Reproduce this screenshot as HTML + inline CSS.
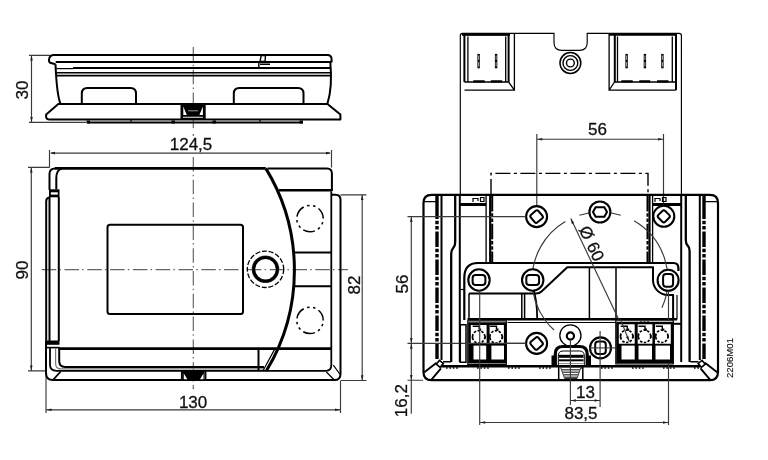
<!DOCTYPE html>
<html><head><meta charset="utf-8">
<style>
html,body{margin:0;padding:0;background:#fff;width:768px;height:460px;overflow:hidden}
svg{display:block;will-change:transform}
text{font-family:"Liberation Sans",sans-serif;fill:#111;stroke:#111;stroke-width:0.3}
.o{stroke:#000;stroke-width:2;fill:none;stroke-linejoin:round}
.k{stroke:#000;stroke-width:2.6;fill:none}
.t{stroke:#000;stroke-width:1.2;fill:none}
.d{stroke:#3a3a3a;stroke-width:1.15;fill:none}
.c{stroke:#666;stroke-width:1.2;fill:none;stroke-dasharray:14.5 3.2 1.5 3.6}
.h{stroke:#000;stroke-width:1.4;fill:none;stroke-dasharray:4 2}
.a{fill:#222;stroke:none}
</style></head><body>
<svg width="768" height="460" viewBox="0 0 768 460">
<!-- ============ SIDE VIEW (top-left) ============ -->
<g id="side">
  <!-- dim 30 -->
  <path class="d" d="M29 55.3H50 M29 122.3H86 M31.5 55.3V122.3"/>
  <path class="a" d="M31.5 55.5l-1.3 5h2.6z M31.5 122l-1.3 -5h2.6z"/>
  <text x="0" y="0" font-size="17" text-anchor="middle" transform="translate(27.5 90) rotate(-90)">30</text>
  <!-- center line -->
  <path class="c" d="M193.3 47V128"/>
  <!-- top cover -->
  <path class="o" d="M55.5 64.3L50.2 62.8Q49 62.5 49 60Q49.3 55 54 55H327.5Q331.6 55 331.6 59.5V61.8H330"/>
  <path class="o" d="M55.7 61.9H330"/>
  <path class="t" d="M73 67.9H330" style="stroke-width:2"/>
  <path class="t" d="M56.5 68.6H73"/>
  <path class="t" d="M56.5 72.8H330" style="stroke-width:1.4"/>
  <path class="o" d="M56.5 75.7H330" style="stroke-width:1.8"/>
  <!-- small step feature near x=263 -->
  <path class="t" d="M260 61.5L261.2 55.5H265.5L265 61.5Z M258.8 61.5V67.8 M260 64.3H270" style="stroke-width:1.4"/>
  <!-- walls -->
  <path class="o" d="M55.5 64.3Q56.8 95 60.5 103.9"/>
  <path class="o" d="M330.3 62C331.6 76 331.2 92 327.4 103.7"/>
  <!-- tabs -->
  <path class="o" d="M81.8 103.7V93.5Q81.8 88 87.3 88H130.5Q136 88 136 93.5V103.7"/>
  <path class="o" d="M233.8 103.7V93.5Q233.8 88 239.3 88H298Q303.5 88 303.5 93.5V103.7"/>
  <!-- base -->
  <path class="o" d="M58.3 103.9H327.5L340.4 114.6V119.6H49Q45.5 119.6 46.2 114.5Z"/>
  <!-- bottom strip -->
  <path class="o" d="M87.5 122.5H303"/>
  <path class="t" d="M131 119.5V122.5 M260 119.5V122.5"/>
  <path class="k" d="M86.5 122h3.5 M171.5 122h3.5 M212.5 122h3.5 M299.5 122h3.5" style="stroke-width:3"/>
  <!-- connector -->
  <path style="fill:#000" d="M180.5 103H205.7V119.5H180.5Z"/>
  <path style="fill:#fff" d="M183.3 106.5V115H186.8Z M202.9 106.5V115H199.4Z"/>
  <path d="M188 110.8H198" style="stroke:#999;stroke-width:1"/>
  <path d="M183 117.3H203" style="stroke:#ccc;stroke-width:1.2"/>
</g>

<!-- ============ FRONT VIEW (bottom-left) ============ -->
<g id="front">
  <!-- dim 124,5 -->
  <path class="d" d="M49.5 150V167.5 M331.5 150V167.5 M51 153.1H330"/>
  <path class="a" d="M50 153.1l5 -1.3v2.6z M331 153.1l-5 -1.3v2.6z"/>
  <text x="191" y="149.6" font-size="17" text-anchor="middle">124,5</text>
  <!-- dim 90 -->
  <path class="d" d="M28 167.3H49.5 M28 370.8H46 M31.3 167.3V370.8"/>
  <path class="a" d="M31.3 167.6l-1.3 5h2.6z M31.3 370.5l-1.3 -5h2.6z"/>
  <text x="0" y="0" font-size="17" text-anchor="middle" transform="translate(28 270) rotate(-90)">90</text>
  <!-- dim 130 -->
  <path class="d" d="M46 372V413 M340.5 381V413 M46 409.8H340.5"/>
  <path class="a" d="M46.5 409.8l5 -1.3v2.6z M340 409.8l-5 -1.3v2.6z"/>
  <text x="193.1" y="408" font-size="17" text-anchor="middle">130</text>
  <!-- dim 82 -->
  <path class="d" d="M340.5 194.8H366.5 M340.5 380.5H366.5 M362.2 194.8V380.5"/>
  <path class="a" d="M362.2 195.1l-1.3 5h2.6z M362.2 380.2l-1.3 -5h2.6z"/>
  <text x="0" y="0" font-size="17" text-anchor="middle" transform="translate(359.5 285) rotate(-90)">82</text>
  <!-- center lines -->
  <path class="c" d="M193.3 134V136 M193.3 157V389.3"/>
  <path class="c" d="M39 269.6H348" style="stroke-dashoffset:20.1"/>

  <!-- outer body -->
  <path class="k" d="M55 168.4H265.8"/>
  <path class="o" d="M49.5 190V174Q49.5 168.4 55 168.4"/>
  <path class="o" d="M61.7 168.6Q56.3 170 56.3 178V189.3"/>
  <path d="M49 189.3H59.5V197.3H49Z" style="fill:#000"/>
  <path d="M50.8 192.3H57.8V194.6H50.8Z" style="fill:#fff"/>
  <path class="o" d="M46.2 341V201Q46.2 198 49.5 197.5"/>
  <path class="o" d="M49.5 197V341 M58.8 197V341"/>
  <path d="M46 340.5H59.5V344.8H46Z" style="fill:#000"/>
  <path d="M46 347.6H59.5" style="stroke:#000;stroke-width:1.6"/>
  <path class="o" d="M46 341V372.7Q46 380.1 53 380.1H334.5Q340.5 380.1 340.5 374V200Q340.5 194.8 335.5 194.8H332"/>
  <path class="o" d="M50 348V364.5Q50 370.8 56.5 370.8H326Q331.3 370.8 331.3 365V191.3" style="stroke-width:1.8"/>
  <path class="t" d="M55.6 348V363.5Q55.6 368.9 61 368.9H264" style="stroke-width:1.2;stroke:#777"/>
  <path class="o" d="M59.2 348V361Q59.2 366.9 65 366.9H264"/>
  <path class="o" d="M267.7 168.4H327Q331.9 168.4 331.9 173.5V191"/>
  <path class="k" d="M279 190.3H331.5"/>
  <path class="o" d="M294.5 252.5H331 M294.5 286.3H331"/>
  <path class="k" d="M58.8 348.6H331"/>

  <path class="o" d="M258.5 348.6V370.8"/>
  <!-- chamfers -->
  <path class="t" d="M326.4 372L334.3 380 M333.3 365.2L340.5 375"/>
  <path class="t" d="M60.7 371.5L53.3 379.7" style="stroke-width:1.8"/>
  <!-- big arc -->
  <path class="k" d="M265.8 168.4A195 195 0 0 1 266.4 370.8" style="stroke-width:3"/>
  <path class="t" d="M275 348.6L263 370.8"/>
  <!-- dashed circles -->
  <circle cx="310" cy="218.6" r="13.2" style="fill:none;stroke:#000;stroke-width:1.5;stroke-dasharray:2.5 3.55 2.5 3.55 12 3.55;stroke-dashoffset:24.1"/>
  <circle cx="310" cy="320.4" r="13.2" style="fill:none;stroke:#000;stroke-width:1.5;stroke-dasharray:2.5 3.55 2.5 3.55 12 3.55;stroke-dashoffset:24.1"/>
  <!-- display -->
  <rect class="o" x="107.5" y="224.8" width="135.5" height="89.2" rx="2.5"/>
  <!-- knob -->
  <circle class="h" cx="265.5" cy="269.3" r="18.2" style="stroke-width:1.3;stroke-dasharray:5 1.8"/>
  <circle cx="265.5" cy="269.3" r="13.2" style="fill:none;stroke:#444;stroke-width:1.2"/>
  <circle class="k" cx="265.5" cy="269.3" r="11.8" style="stroke-width:3"/>
  <!-- clip -->
  <path class="o" d="M181.9 371V380 M205.4 371V380"/>
  <path style="fill:#000" d="M183 371H204.3V379.3H183Z"/>
  <path style="fill:#fff" d="M183.8 373.5V379.3H187.3Z M203.5 373.5V379.3H200Z"/>
</g>

<!-- ============ REAR VIEW (right) ============ -->
<g id="rear">
  <!-- plate outline -->
  <path class="t" d="M460.3 194V35.5Q460.3 33.3 462.5 33.3H554V42.5Q554 50.4 562 50.4H579.2Q587.2 50.4 587.2 42.5V33.3H679Q681.4 33.3 681.4 35.5V194" style="stroke-width:1.15"/>
  <!-- left connector -->
  <path class="t" d="M462 34.8H510 M464.5 90.1H514.4V33.3 M467.9 36.5V82 M505.7 36.5V82 M464.5 82H508.6L514.4 90.1" style="stroke-width:1.3"/>
  <path d="M464.4 34V82 M508.6 34V82 M462 34.8H510" style="stroke:#000;stroke-width:2;fill:none"/>
  <path d="M473.3 81.3H484.7 M490.8 81.3H502.2" style="stroke:#000;stroke-width:2.2"/>
  <g style="fill:#000">
    <rect x="477.4" y="53.9" width="2.4" height="14.4"/>
    <rect x="494.9" y="53.9" width="2.4" height="14.4"/>
  </g>
  <path d="M478.6 55.5V59.8 M496.1 55.5V59.8 M478.6 62V66.5 M496.1 62V66.5" style="stroke:#bbb;stroke-width:0.9"/>
  <!-- right connector -->
  <path class="t" d="M609.1 33.3V90.1H676.1 M614.5 82L609.1 90.1 M617.5 36.5V82 M672.3 36.5V82 M614.5 82H676" style="stroke-width:1.3"/>
  <path d="M614.8 34V82 M676 34V90.1 M609.1 34.8H676" style="stroke:#000;stroke-width:2;fill:none"/>
  <path d="M621.3 81.3H632.7 M639.3 81.3H650.2 M657 81.3H668.5" style="stroke:#000;stroke-width:2.2"/>
  <g style="fill:#000">
    <rect x="625.4" y="53.9" width="2.4" height="14.4"/>
    <rect x="643.7" y="53.9" width="2.4" height="14.4"/>
    <rect x="661.2" y="53.9" width="2.4" height="14.4"/>
  </g>
  <path d="M626.6 55.5V59.8 M644.9 55.5V59.8 M662.4 55.5V59.8 M626.6 62V66.5 M644.9 62V66.5 M662.4 62V66.5" style="stroke:#bbb;stroke-width:0.9"/>
  <!-- screw -->
  <circle class="t" cx="570.4" cy="63" r="10.4" style="stroke-width:1.5"/>
  <circle class="t" cx="570.4" cy="63" r="7.4" style="stroke-width:1.4"/>
  <circle class="t" cx="570.4" cy="63" r="3.9" style="stroke-width:1.4"/>

  <!-- dim 56 horizontal -->
  <path class="d" d="M536.8 134V206 M663.5 134V206 M536.8 139.2H663.5"/>
  <path class="a" d="M537.3 139.2l5 -1.3v2.6z M663 139.2l-5 -1.3v2.6z"/>
  <text x="597.5" y="134.6" font-size="17" text-anchor="middle">56</text>
  <!-- phantom -->
  <path d="M491 194V173.4H648V194" style="fill:none;stroke:#000;stroke-width:1.4;stroke-dasharray:15 3.5 3 3.5"/>

  <!-- housing outer -->
  <path class="o" d="M423.5 372V203Q423.5 194.8 431.5 194.8H710Q718 194.8 718 203V372Q718 380.2 710 380.2H431.5Q423.5 380.2 423.5 372Z" style="stroke-width:2.2"/>
  <path class="t" d="M424 201.6H436 M705 201.6H717.5"/>
  <!-- left rails -->
  <path d="M437 195V360" style="fill:none;stroke:#000;stroke-width:3.4;stroke-dasharray:24 1.8 3.5 1.8 3.5 1.8 15.6 1.8 3.5 1.8 3.5 1.8 15.6 1.8 3.5 1.8 3.5 1.8 15.6 1.8 3.5 1.8 3.5 1.8 15.6 1.8 3.5 1.8 3.5 1.8 15.6 1.8 3.5 1.8 3.5 1.8 200"/>
  <path class="t" d="M441.5 195V360" style="stroke-width:2"/>
  <path class="t" d="M455.2 195V242Q455.2 246 453.2 248Q451.2 250 451.2 254V362" style="stroke-width:2.3"/>
  <path class="t" d="M459.8 195V362" style="stroke-width:2"/>
  <!-- right rails -->
  <path d="M704 195V360" style="fill:none;stroke:#000;stroke-width:3.4;stroke-dasharray:24 1.8 3.5 1.8 3.5 1.8 15.6 1.8 3.5 1.8 3.5 1.8 15.6 1.8 3.5 1.8 3.5 1.8 15.6 1.8 3.5 1.8 3.5 1.8 15.6 1.8 3.5 1.8 3.5 1.8 15.6 1.8 3.5 1.8 3.5 1.8 200"/>
  <path class="t" d="M699.8 195V360" style="stroke-width:2"/>
  <path class="t" d="M685.8 195V240Q685.8 244 687.7 245.7Q689.6 247.4 689.6 251V362" style="stroke-width:2.3"/>
  <path class="t" d="M681.2 195V362" style="stroke-width:2"/>
  <!-- top frames -->
  <path d="M459 204.5H486 M652 204.5H681" style="stroke:#000;stroke-width:3"/>
  <path class="t" d="M486.1 195V262 M652.6 195V262" style="stroke-width:1.3"/>
  <path d="M490.2 195V262.5 M649.5 195V262.5" style="fill:none;stroke:#000;stroke-width:2.2"/>
  <path d="M492.2 195V262.5 M647.5 195V262.5" style="fill:none;stroke:#000;stroke-width:2;stroke-dasharray:16.5 1.8 3.4 1.8 3.4 1.8 15.6 1.8 3.4 1.8 3.4 1.8 40"/>
  <path class="t" d="M473 202V198.5H478V201 M480.5 197.5H484V201.5H480.5Z M655 202V198.5H660V201 M662.5 197.5H666V201.5H662.5Z"/>

  <!-- inner plate -->
  <path class="o" d="M464.3 320V277.8Q464.3 263 478 263H673.4Q678.4 263 678.4 268V271" style="stroke-width:2.2"/>
  <path class="t" d="M459.7 289.5H464.3"/>
  <path class="o" d="M469 293.5H536Q539.5 293.5 541.5 291.5L567.3 267.3H653V280A15 15 0 0 0 668 295H673.1V319.5"/>
  <path class="o" d="M673.1 323.8H681.2"/>
  <path class="o" d="M533.5 290Q537 300 537.2 318" style="stroke-width:1.8"/>
  <path class="o" d="M467.5 319.3H677" style="stroke-width:2.4"/>
  <path class="t" d="M507.5 322.5H616"/>
  <path class="t" d="M469 293.5V319 M521.8 293.5V319 M524.6 293.5V319 M589.4 267.3V319 M616 267.3V319" style="stroke-width:1.5"/>
  <path class="t" d="M677 295V319.5"/>

  <!-- Ø60 circle (center 600,280 r68) -->
  <path class="d" d="M532 280A68 68 0 0 1 565.3 221.6 M579.4 215.3A68 68 0 0 1 620.8 215.3 M634 220.8A68 68 0 0 1 661.9 307.7 M545 320A68 68 0 0 1 532 280 M554 330A68 68 0 0 1 545 320"/>
  <path class="d" d="M570.8 218.6L629.2 341.4"/>
  <path class="a" d="M570.9 218.8l0.9 5.3l2.4 -1.1z"/>
  <text x="0" y="0" font-size="17" text-anchor="middle" transform="translate(586.5 246) rotate(64.6)">Ø 60</text>

  <!-- holes -->
  <g style="fill:#fff;stroke:#000;stroke-width:2.1">
    <circle cx="536.6" cy="216.6" r="10.5"/>
    <circle cx="599.9" cy="212" r="10.5"/>
    <circle cx="663.8" cy="216.3" r="10.5"/>
    <circle cx="479" cy="280" r="10.7"/>
    <circle cx="532.7" cy="280" r="10.7"/>
    <circle cx="668.1" cy="280.3" r="10.5"/>
    <circle cx="536.6" cy="343.4" r="10.5"/>
    <circle cx="600.5" cy="347.9" r="10.5"/>
  </g>
  <g style="fill:none;stroke:#000;stroke-width:2">
    <rect x="531.6" y="211.6" width="10" height="10" rx="2" transform="rotate(-40 536.6 216.6)"/>
    <path d="M595.6 207.3H604.4L607 212L604.4 216.8H595.6L593 212Z"/>
    <rect x="659" y="211.5" width="9.6" height="9.6" rx="2" transform="rotate(45 663.8 216.3)"/>
    <rect x="472.6" y="275" width="12.8" height="10" rx="3"/>
    <rect x="526.3" y="275" width="12.8" height="10" rx="3"/>
    <rect x="663.1" y="273.9" width="10" height="12.8" rx="3"/>
    <rect x="531.6" y="338.4" width="10" height="10" rx="2" transform="rotate(-40 536.6 343.4)"/>
    <rect x="595.2" y="341.6" width="10.6" height="12.5" rx="3"/>
  </g>

  <!-- bottom rail -->
  <path d="M441 366.2H700" style="stroke:#000;stroke-width:2.6"/>
  <path d="M441 368H700" style="stroke:#000;stroke-width:1.4;stroke-dasharray:1.6 1.8 1.6 1.8 1.6 1.8 1.6 19.2;stroke-dashoffset:-5"/>
  <!-- chamfer bands -->
  <path class="t" d="M424.3 372.2L436.6 362.8 M431.7 379.3L441 368.3" style="stroke-width:1.9"/>
  <path class="t" d="M717.2 372.2L704.9 362.8 M709.8 379.3L700.5 368.3" style="stroke-width:1.9"/>
  <rect x="437.3" y="361.3" width="5" height="5" transform="rotate(40 439.8 363.8)" style="fill:#fff;stroke:#000;stroke-width:1.6"/>
  <rect x="699.2" y="361.3" width="5" height="5" transform="rotate(-40 701.7 363.8)" style="fill:#fff;stroke:#000;stroke-width:1.6"/>
  <path class="t" d="M443 361.8H451 M690.5 361.8H698.5" style="stroke-width:1.4"/>

  <!-- screw boss + clamp -->
  <circle class="t" cx="570.4" cy="335.4" r="10.6" style="stroke-width:1.3"/>
  <circle class="o" cx="570.4" cy="336" r="3.6" style="stroke-width:2.2"/>
  <path d="M555.3 365V354Q555.3 346.5 563 346.5H579.5Q587.2 346.5 587.2 354V365" style="fill:none;stroke:#000;stroke-width:3.2"/>
  <path d="M551.5 355.6H555.5V365H551.5Z M587 355.6H591V365H587Z" style="fill:#000"/>
  <path class="t" d="M558.3 365V356Q558.3 351 563 351H579.5Q584.3 351 584.3 356V365" style="stroke-width:1"/>
  <path d="M559 356.3H583.5" style="stroke:#000;stroke-width:3"/>
  <path d="M559 360.3H583.5" style="stroke:#000;stroke-width:2"/>
  <path d="M559 363.6H583.5" style="stroke:#888;stroke-width:1"/>
  <path d="M558.7 366V380 M582.8 366V380" style="stroke:#000;stroke-width:1.5"/>
  <path d="M560.6 367.3H580.9L577 378.5H564.6Z" style="fill:#fff;stroke:#333;stroke-width:1"/>
  <path d="M561.5 369.8H580 M562.5 372.3H579 M563.5 374.8H578 M564.3 377.2H577.3" style="stroke:#555;stroke-width:1.4"/>

  <!-- dims rear -->
  <path class="d" d="M407.5 216.6H526 M407.5 343.4H526 M411.3 216.6V343.4"/>
  <path class="a" d="M411.3 216.9l-1.3 5h2.6z M411.3 343.1l-1.3 -5h2.6z"/>
  <text x="0" y="0" font-size="17" text-anchor="middle" transform="translate(407.5 284) rotate(-90)">56</text>
  <path class="d" d="M407.5 380.2H423 M411.3 343.4V413.8"/>
  <path class="a" d="M411.3 380l-1.3 -5h2.6z M411.3 343.7l-1.3 5h2.6z"/>
  <text x="0" y="0" font-size="17" text-anchor="middle" transform="translate(406.9 400.7) rotate(-90)">16,2</text>
  <path class="d" d="M479.7 290V425 M668.5 291V425 M479.7 422.5H668.5"/>
  <path class="a" d="M480.2 422.5l5 -1.3v2.6z M668 422.5l-5 -1.3v2.6z"/>
  <text x="581" y="418.8" font-size="17" text-anchor="middle">83,5</text>
  <path class="d" d="M570.4 340V405 M600.1 331V407 M570.4 400.5H600.1"/>
  <path class="a" d="M570.9 400.5l5 -1.3v2.6z M599.6 400.5l-5 -1.3v2.6z"/>
  <text x="585.5" y="397.5" font-size="17" text-anchor="middle">13</text>
  <text x="0" y="0" font-size="9.6" text-anchor="middle" transform="translate(733 358) rotate(-90)" style="stroke-width:0.15">2206M01</text>
  <!-- terminal blocks -->
  <path d="M467.8 320.8H506.3V364.5H467.8Z" style="fill:#fff;stroke:#000;stroke-width:1.2"/>
  <path d="M469.5 323.6H505.2V362.2H469.5Z" style="fill:none;stroke:#000;stroke-width:2.6"/>
  <path d="M469.5 343.8H505.2V362.2H469.5Z" style="fill:#000"/>
  <path d="M488.1 323.6V362.2" style="stroke:#000;stroke-width:3"/>
  <path d="M473.5 345.6H486.2V359.5H473.5Z" style="fill:#fff"/>
  <path d="M491.4 345.6H504V359.5H491.4Z" style="fill:#fff"/>
  <circle cx="478.7" cy="336.9" r="6.2" style="fill:none;stroke:#000;stroke-width:1.7;stroke-dasharray:2.4 1.5"/>
  <path d="M472.7 326.3H479.2V329.5" style="fill:none;stroke:#000;stroke-width:1.4"/>
  <path d="M479.0 328.6h2.2v2.2h-2.2z M471.7 335.9h1.6v2.5h-1.6z M484.3 335.9h1.6v2.5h-1.6z" style="fill:#000"/>
  <circle cx="496" cy="336.9" r="6.2" style="fill:none;stroke:#000;stroke-width:1.7;stroke-dasharray:2.4 1.5"/>
  <path d="M490 326.3H496.5V329.5" style="fill:none;stroke:#000;stroke-width:1.4"/>
  <path d="M496.3 328.6h2.2v2.2h-2.2z M489 335.9h1.6v2.5h-1.6z M501.6 335.9h1.6v2.5h-1.6z" style="fill:#000"/>
  <path d="M460.3 324.8H466V362.2H460.3Z" style="fill:none;stroke:#000;stroke-width:1.5"/>
  <path d="M615.8 320.2H673.3V363.9H615.8Z" style="fill:#fff;stroke:#000;stroke-width:1.2"/>
  <path d="M617.5 323H672.1V361.6H617.5Z" style="fill:none;stroke:#000;stroke-width:2.6"/>
  <path d="M617.5 343.8H672.1V361.6H617.5Z" style="fill:#000"/>
  <path d="M636.2 323V361.6" style="stroke:#000;stroke-width:3"/>
  <path d="M653.7 323V361.6" style="stroke:#000;stroke-width:2.6"/>
  <path d="M621.5 345.6H634.7V359.5H621.5Z" style="fill:#fff"/>
  <path d="M638.5 345.6H652V359.5H638.5Z" style="fill:#fff"/>
  <path d="M655.5 345.6H670V359.5H655.5Z" style="fill:#fff"/>
  <circle cx="626.7" cy="336.3" r="6.2" style="fill:none;stroke:#000;stroke-width:1.7;stroke-dasharray:2.4 1.5"/>
  <path d="M620.7 326.3H627.2V329.5" style="fill:none;stroke:#000;stroke-width:1.4"/>
  <path d="M627.0 328.6h2.2v2.2h-2.2z M619.7 335.3h1.6v2.5h-1.6z M632.3000000000001 335.3h1.6v2.5h-1.6z" style="fill:#000"/>
  <circle cx="644.5" cy="336.3" r="6.2" style="fill:none;stroke:#000;stroke-width:1.7;stroke-dasharray:2.4 1.5"/>
  <path d="M638.5 326.3H645.0V329.5" style="fill:none;stroke:#000;stroke-width:1.4"/>
  <path d="M644.8 328.6h2.2v2.2h-2.2z M637.5 335.3h1.6v2.5h-1.6z M650.1 335.3h1.6v2.5h-1.6z" style="fill:#000"/>
  <circle cx="661.8" cy="336.3" r="6.2" style="fill:none;stroke:#000;stroke-width:1.7;stroke-dasharray:2.4 1.5"/>
  <path d="M655.8 326.3H662.3V329.5" style="fill:none;stroke:#000;stroke-width:1.4"/>
  <path d="M662.0999999999999 328.6h2.2v2.2h-2.2z M654.8 335.3h1.6v2.5h-1.6z M667.4 335.3h1.6v2.5h-1.6z" style="fill:#000"/>
  <path d="M640 322.3H650" style="stroke:#000;stroke-width:1.5;stroke-dasharray:2 1.5"/>

  <path class="d" d="M620.6 319.5L629.2 341.4"/>
  <path class="a" d="M629.2 341.2l-0.9 -5.3l-2.4 1.1z"/>
  <path class="d" d="M465 343.4H526 M479.7 319V365"/>
  <path class="d" d="M589 347.9H616"/>
</g>
</svg>
</body></html>
